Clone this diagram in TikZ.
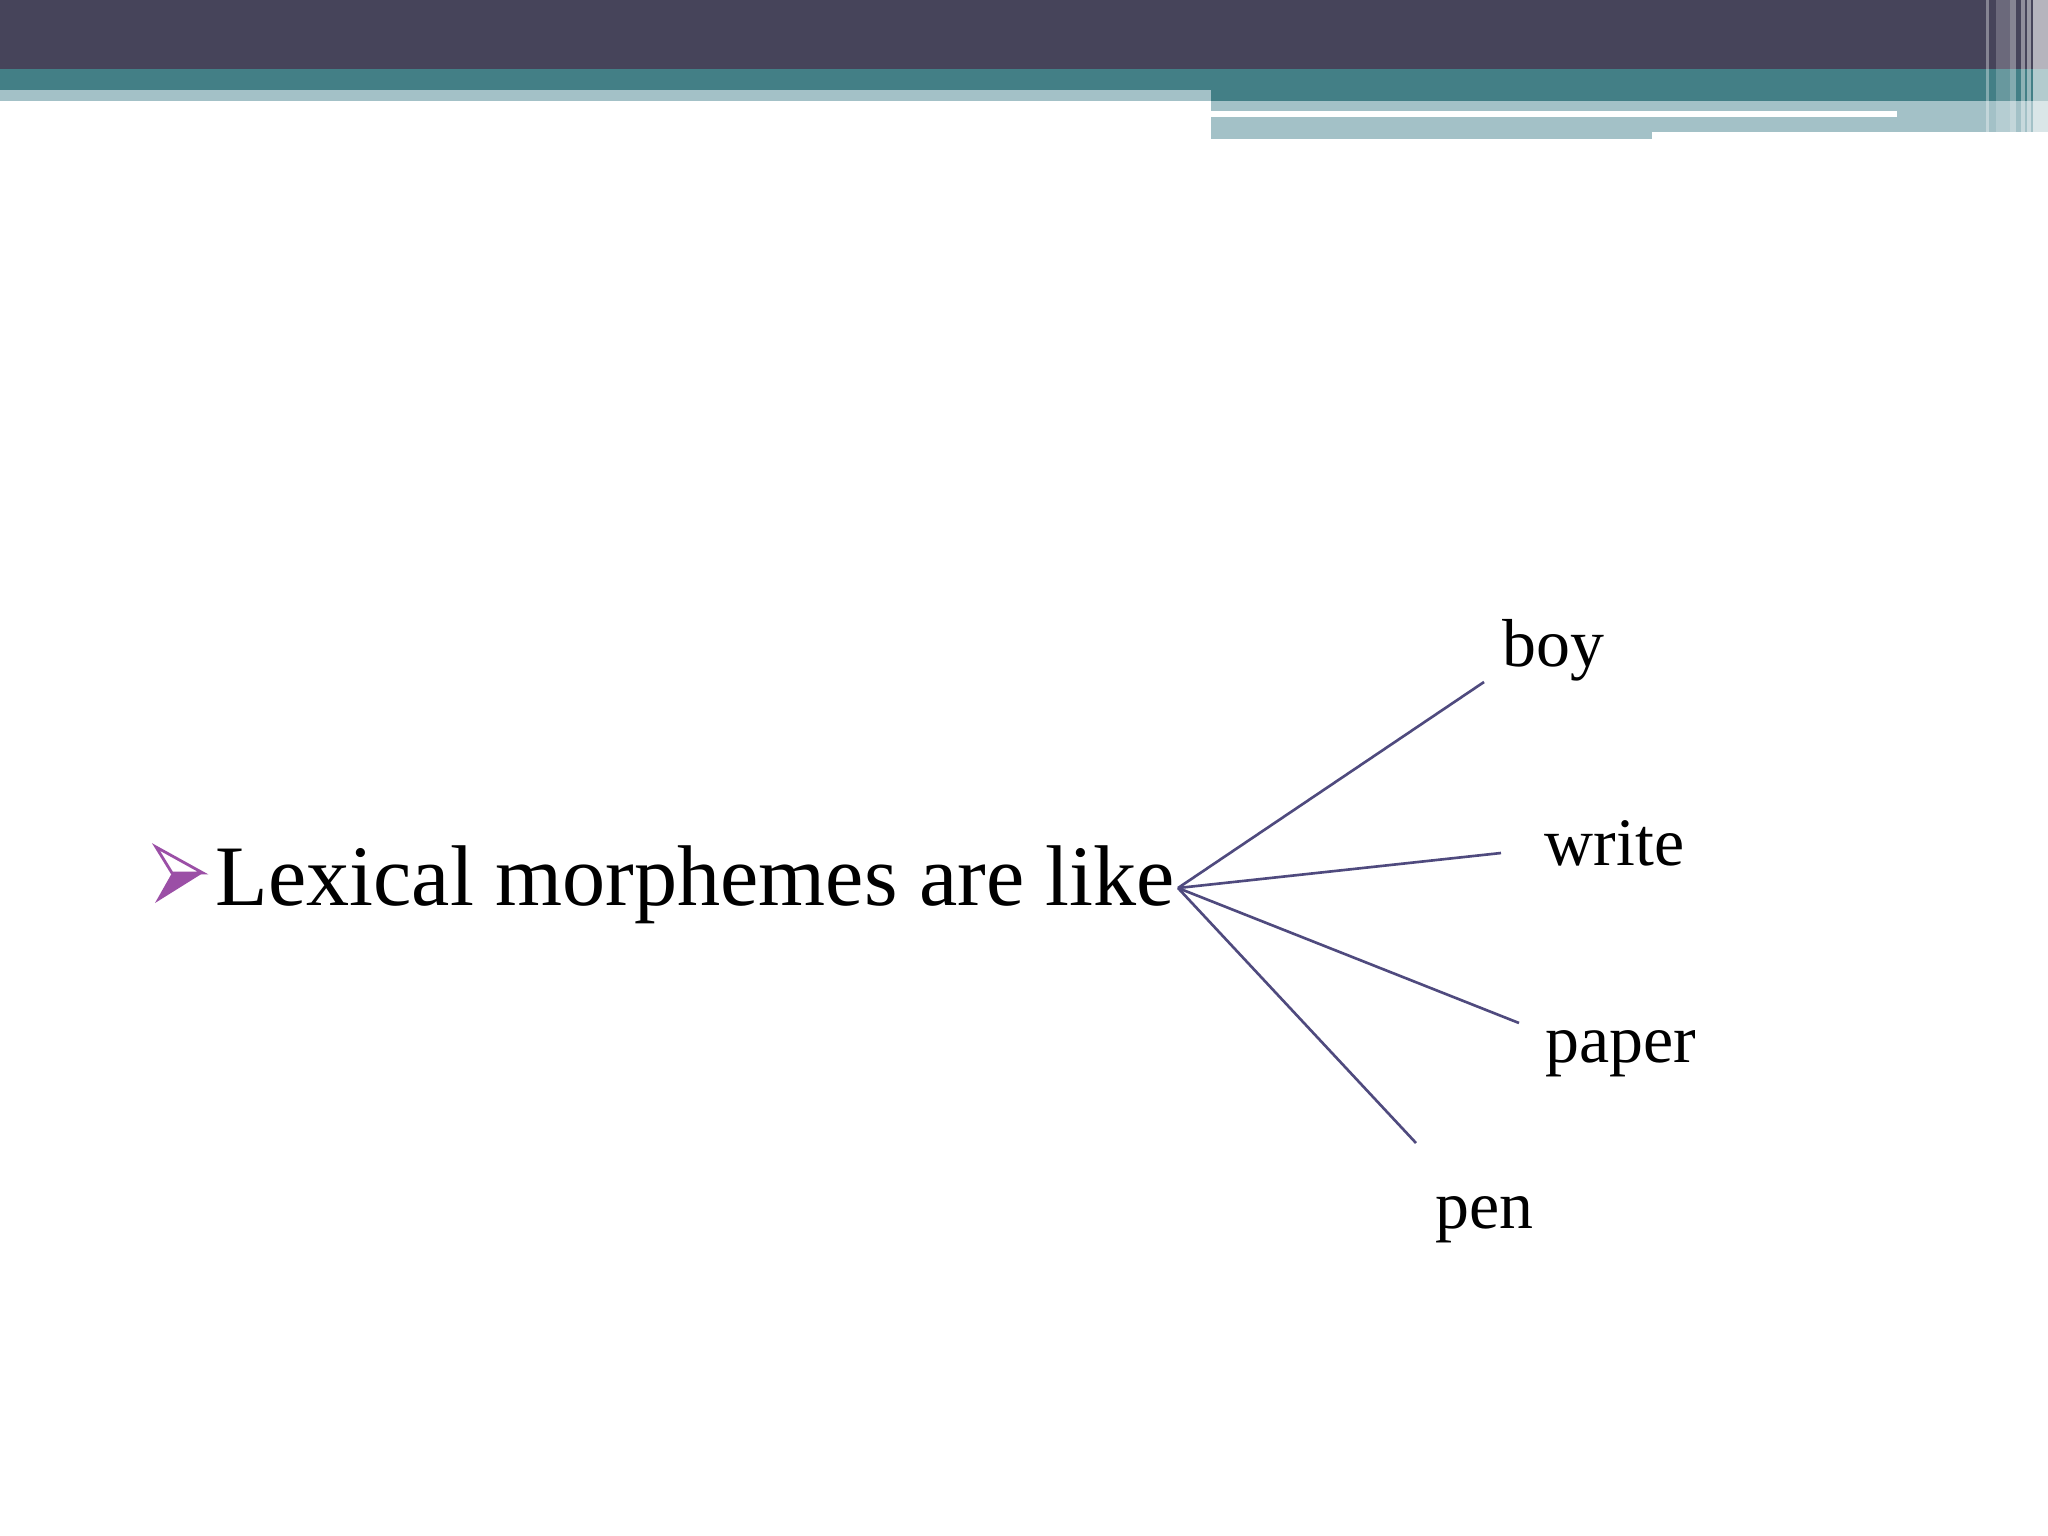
\documentclass[tikz,border=0pt]{standalone}
\usepackage{fontspec}
\setmainfont{Liberation Serif}
\usetikzlibrary{calc}
\definecolor{barDark}{HTML}{46445A}
\definecolor{barTeal}{HTML}{437F86}
\definecolor{barLight}{HTML}{A3C1C7}
\definecolor{bulletPurple}{HTML}{9B4FA6}
\definecolor{branchLine}{HTML}{4F4A7E}

\begin{document}
\begin{tikzpicture}[x=0.01cm,y=-0.01cm,
  word/.style={anchor=base west, inner sep=0pt, font=\fontsize{19.3}{23}\selectfont},
  branch/.style={draw=branchLine, line width=0.75pt}]
\useasboundingbox (0,0) rectangle (2048,1536);
\fill[white] (0,0) rectangle (2048,1536);

\fill[barDark] (0,0) rectangle (2048,69);
\fill[barTeal] (0,69) rectangle (2048,101);
\fill[barLight] (0,90) rectangle (1211,101);
\fill[barLight] (1211,101) rectangle (2048,139);
\fill[white] (1211,111) rectangle (1897,117);
\fill[white] (1652,132) rectangle (2048,139);
\fill[white,opacity=.35] (1986,0) rectangle (1989,132);
\fill[white,opacity=.2] (1996,0) rectangle (2010,132);
\fill[white,opacity=.35] (2010,0) rectangle (2016,139);
\fill[white,opacity=.4] (2021,0) rectangle (2025,139);
\fill[white,opacity=.45] (2027,0) rectangle (2031,139);
\fill[white,opacity=.6] (2033,0) rectangle (2048,139);

\draw[bulletPurple, line width=0.8pt, line join=miter] (156,847) -- (203,873) -- (172,873) -- cycle;
\fill[bulletPurple] (172,873) -- (203,873) -- (155,903) -- cycle;

\node[anchor=base west, inner sep=0pt, font=\fontsize{24.5}{29}\selectfont] (lexical) at (215,905) {Lexical morphemes are like};

\node[word] (boy) at (1502,666) {boy};
\node[word] (write) at (1544,865) {write};
\node[word] (paper) at (1545,1062) {paper};
\node[word] (pen) at (1435,1228) {pen};

\coordinate (hub) at (1178,888);
\coordinate (boytip) at (1484,682);
\coordinate (writetip) at (1501,853);
\coordinate (papertip) at (1519,1023);
\coordinate (pentip) at (1416,1143);

\foreach \w in {boy,write,paper,pen}
  \draw[branch] (hub) -- (\w tip);
\end{tikzpicture}
\end{document}
